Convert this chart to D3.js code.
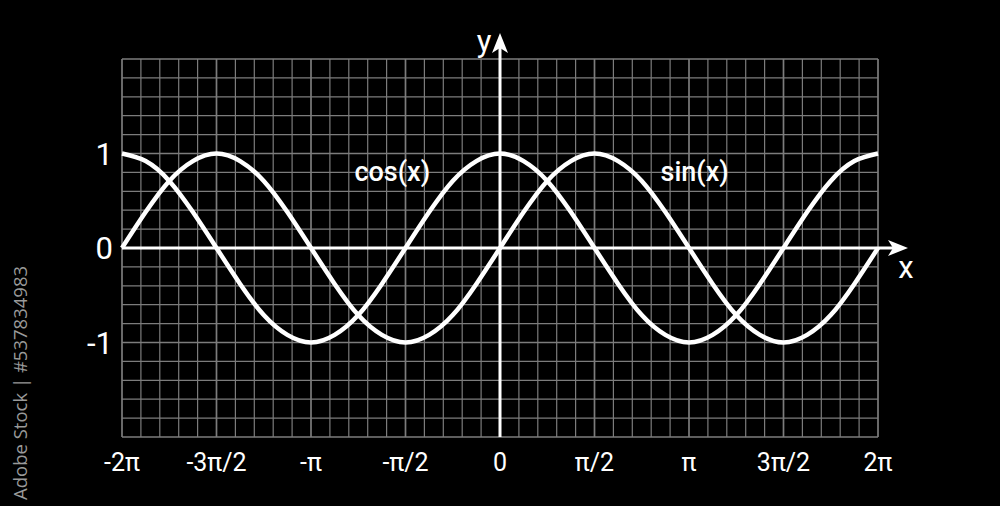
<!DOCTYPE html>
<html><head><meta charset="utf-8">
<script src="https://cdn.jsdelivr.net/npm/d3@7"></script>
<style>
html,body{margin:0;padding:0;background:#000;}
svg{display:block;}
</style></head>
<body>
<script>
// ---- data ----
// sample positions: multiples of pi/8 from -2pi to 2pi (index k -> k*pi/8, k=-16..16)
const sampleSteps = d3.range(-16, 17);
const sinValues = [0,0.38,0.71,0.92,1,0.92,0.71,0.38,0,-0.38,-0.71,-0.92,-1,-0.92,-0.71,-0.38,
                   0,0.38,0.71,0.92,1,0.92,0.71,0.38,0,-0.38,-0.71,-0.92,-1,-0.92,-0.71,-0.38,0];
const cosValues = [1,0.92,0.71,0.38,0,-0.38,-0.71,-0.92,-1,-0.92,-0.71,-0.38,0,0.38,0.71,0.92,
                   1,0.92,0.71,0.38,0,-0.38,-0.71,-0.92,-1,-0.92,-0.71,-0.38,0,0.38,0.71,0.92,1];
const xTickMultiples = [-4,-3,-2,-1,0,1,2,3,4]; // times pi/2
const xTickLabels = ["-2π","-3π/2","-π","-π/2","0","π/2","π","3π/2","2π"];
const yTickValues = [1,0,-1];
const yTickLabels = ["1","0","-1"];
const seriesNames = ["cos(x)", "sin(x)"];
const seriesLabelAt = [-0.57, 1.03]; // multiples of pi

const W = 1000, H = 506;
const PI = Math.PI;
const svg = d3.select("body").append("svg").attr("width", W).attr("height", H);
svg.append("rect").attr("width", W).attr("height", H).attr("fill", "#000");

const x = d3.scaleLinear().domain([-2*PI, 2*PI]).range([122, 878]);
const y = d3.scaleLinear().domain([-2, 2]).range([437, 59]);

// grid
const grid = svg.append("g");
d3.range(0, 41).forEach(i => {
  const v = -2*PI + i*PI/10;
  grid.append("line").attr("x1", x(v)).attr("x2", x(v)).attr("y1", y(-2)).attr("y2", y(2))
    .attr("stroke", "#7c7c7c").attr("stroke-width", i % 5 === 0 ? 1.7 : 1.2);
});
d3.range(0, 21).forEach(i => {
  const v = -2 + i*0.2;
  grid.append("line").attr("y1", y(v)).attr("y2", y(v)).attr("x1", x(-2*PI)).attr("x2", x(2*PI))
    .attr("stroke", "#7c7c7c").attr("stroke-width", i % 5 === 0 ? 1.7 : 1.2);
});

// axes
svg.append("line").attr("x1", x(-2*PI)).attr("x2", 896).attr("y1", y(0)).attr("y2", y(0))
  .attr("stroke", "#fff").attr("stroke-width", 3);
svg.append("line").attr("x1", x(0)).attr("x2", x(0)).attr("y1", y(-2)).attr("y2", 46)
  .attr("stroke", "#fff").attr("stroke-width", 3);
// arrowheads
const ax = 908, ay = y(0);
svg.append("path").attr("d", `M${ax},${ay} L${ax-20},${ay-8} L${ax-15},${ay} L${ax-20},${ay+8} Z`).attr("fill", "#fff");
const bx = x(0), by = 33;
svg.append("path").attr("d", `M${bx},${by} L${bx-8},${by+20} L${bx},${by+15} L${bx+8},${by+20} Z`).attr("fill", "#fff");

// curves
const line = d3.line().x((d,i) => x(sampleSteps[i]*PI/8)).y(d => y(d)).curve(d3.curveNatural);
[cosValues, sinValues].forEach(vals => {
  svg.append("path").attr("d", line(vals)).attr("fill", "none")
    .attr("stroke", "#fff").attr("stroke-width", 4.5);
});

const font = "Roboto, 'Noto Sans', sans-serif";
// x tick labels
xTickMultiples.forEach((m, i) => {
  svg.append("text").attr("x", x(m*PI/2)).attr("y", 471).attr("text-anchor", "middle")
    .attr("fill", "#fff").attr("font-family", font).attr("font-size", 25).text(xTickLabels[i]);
});
// y tick labels
yTickValues.forEach((v, i) => {
  svg.append("text").attr("x", 113).attr("y", y(v) + 11).attr("text-anchor", "end")
    .attr("fill", "#fff").attr("font-family", font).attr("font-size", 31).text(yTickLabels[i]);
});
// axis names
svg.append("text").attr("x", 484).attr("y", 52).attr("text-anchor", "middle")
  .attr("fill", "#fff").attr("font-family", font).attr("font-size", 31).text("y");
svg.append("text").attr("x", 906).attr("y", 278).attr("text-anchor", "middle")
  .attr("fill", "#fff").attr("font-family", font).attr("font-size", 31).text("x");
// series labels
seriesNames.forEach((name, i) => {
  svg.append("text").attr("x", x(seriesLabelAt[i]*PI)).attr("y", 181).attr("text-anchor", "middle")
    .attr("fill", "#fff").attr("font-family", font).attr("font-weight", 500).attr("font-size", 27).text(name);
});
// stock id side text
svg.append("text").attr("transform", "translate(27,500) rotate(-90)")
  .attr("fill", "#9a9a9a").attr("font-family", "'Open Sans', sans-serif").attr("font-size", 18.5)
  .text("Adobe Stock | #537834983");
</script>
</body></html>
